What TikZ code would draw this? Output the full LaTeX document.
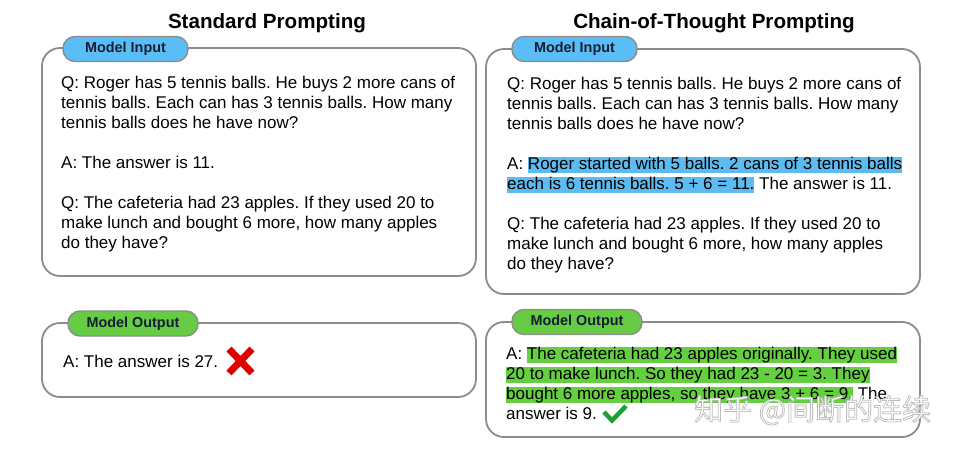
\documentclass[tikz,border=0pt]{standalone}
\usepackage{fontspec}
\setmainfont{Liberation Sans}
\newfontfamily\cjkfont{Noto Sans CJK SC}
\definecolor{boxgray}{HTML}{8C8C8C}
\definecolor{tagblue}{HTML}{5BBDF5}
\definecolor{taggreen}{HTML}{66CC44}
\definecolor{hlblue}{HTML}{5CBCF2}
\definecolor{hlgreen}{HTML}{64D040}
\definecolor{tagtext}{HTML}{141E32}
\definecolor{xred}{HTML}{E00000}
\definecolor{okgreen}{HTML}{1FA035}
\newcommand\hlb[1]{{\setlength{\fboxsep}{0pt}\colorbox{hlblue}{\rule[-3.8pt]{0pt}{16.2pt}#1}}}
\newcommand\hlg[1]{{\setlength{\fboxsep}{0pt}\colorbox{hlgreen}{\rule[-3.8pt]{0pt}{16.2pt}#1}}}
\frenchspacing
\begin{document}
\frenchspacing
\begin{tikzpicture}[x=1pt,y=-1pt,
  panel/.style={draw=boxgray,line width=1.8pt,rounded corners=18pt,inner sep=0pt},
  tag/.style={draw=boxgray,line width=1.4pt,rounded corners=12pt,minimum height=25pt,inner sep=0pt,font=\fontsize{14.4}{16}\selectfont\bfseries,text=tagtext},
  intag/.style={tag,fill=tagblue,minimum width=125pt},
  outtag/.style={tag,fill=taggreen,minimum width=130pt},
  txt/.style={anchor=base west,inner sep=0pt,font=\fontsize{17}{20}\selectfont\frenchspacing},
  ttl/.style={anchor=base,inner sep=0pt,font=\fontsize{20.6}{24}\selectfont\bfseries},
  wm/.style={anchor=base west,inner sep=0pt,font=\fontsize{29}{30}\selectfont\cjkfont}]
\useasboundingbox[fill=white] (0,0) rectangle (954,450);

% titles
\node[ttl] (t1) at (267,28) {Standard Prompting};
\node[ttl] (t2) at (714,28) {Chain-of-Thought Prompting};

% panels
\node[panel,minimum width=434pt,minimum height=228pt] (pinl) at (259,162) {};
\node[panel,minimum width=434pt,minimum height=245pt] (pinr) at (703,171.5) {};
\node[panel,minimum width=434pt,minimum height=74pt] (poutl) at (259,360) {};
\node[panel,minimum width=434pt,minimum height=115pt] (poutr) at (703,379.5) {};

% tags
\node[intag] (tinl) at (125.5,49) {Model Input};
\node[intag] (tinr) at (574.5,49) {Model Input};
\node[outtag] (toutl) at (133,323.5) {Model Output};
\node[outtag] (toutr) at (577,322) {Model Output};

% left input text
\node[txt] (l1) at (61,88.5) {Q: Roger has 5 tennis balls. He buys 2 more cans of};
\node[txt] (l2) at (61,108.5) {tennis balls. Each can has 3 tennis balls. How many};
\node[txt] (l3) at (61,128.5) {tennis balls does he have now?};
\node[txt] (l4) at (61,168.5) {A: The answer is 11.};
\node[txt] (l5) at (61,208.5) {Q: The cafeteria had 23 apples. If they used 20 to};
\node[txt] (l6) at (61,228.5) {make lunch and bought 6 more, how many apples};
\node[txt] (l7) at (61,248.5) {do they have?};

% left output text
\node[txt] (lo1) at (63,367) {A: The answer is 27.};
\draw[xred,line width=7pt] (229,349) -- (252,373) (252,349) -- (229,373);

% right input text
\node[txt] (r1) at (507,89.5) {Q: Roger has 5 tennis balls. He buys 2 more cans of};
\node[txt] (r2) at (507,109.5) {tennis balls. Each can has 3 tennis balls. How many};
\node[txt] (r3) at (507,129.5) {tennis balls does he have now?};
\node[txt] (r4) at (507,169.5) {A: \hlb{Roger started with 5 balls. 2 cans of 3 tennis balls}};
\node[txt] (r5) at (507,189.5) {\hlb{each is 6 tennis balls. 5 + 6 = 11.} The answer is 11.};
\node[txt] (r6) at (507,229.5) {Q: The cafeteria had 23 apples. If they used 20 to};
\node[txt] (r7) at (507,249.5) {make lunch and bought 6 more, how many apples};
\node[txt] (r8) at (507,269.5) {do they have?};

% right output text
\node[txt] (ro1) at (506,359) {A: \hlg{The cafeteria had 23 apples originally. They used}};
\node[txt] (ro2) at (506,379) {\hlg{20 to make lunch. So they had 23 - 20 = 3. They}};
\node[txt] (ro3) at (506,399) {\hlg{bought 6 more apples, so they have 3 + 6 = 9.} The};
\node[txt] (ro4) at (506,419) {answer is 9.};
\draw[okgreen,line width=4.5pt] (604,412) -- (612,420.5) -- (626,406);

% watermark (white fill, grey stroke)
\node[wm,text=white] (wmk) at (694,420) {\special{pdf:literal direct 2 Tr 0.8 w 0.75 G}知乎 @间断的连续\special{pdf:literal direct 0 Tr}};
\end{tikzpicture}
\end{document}
